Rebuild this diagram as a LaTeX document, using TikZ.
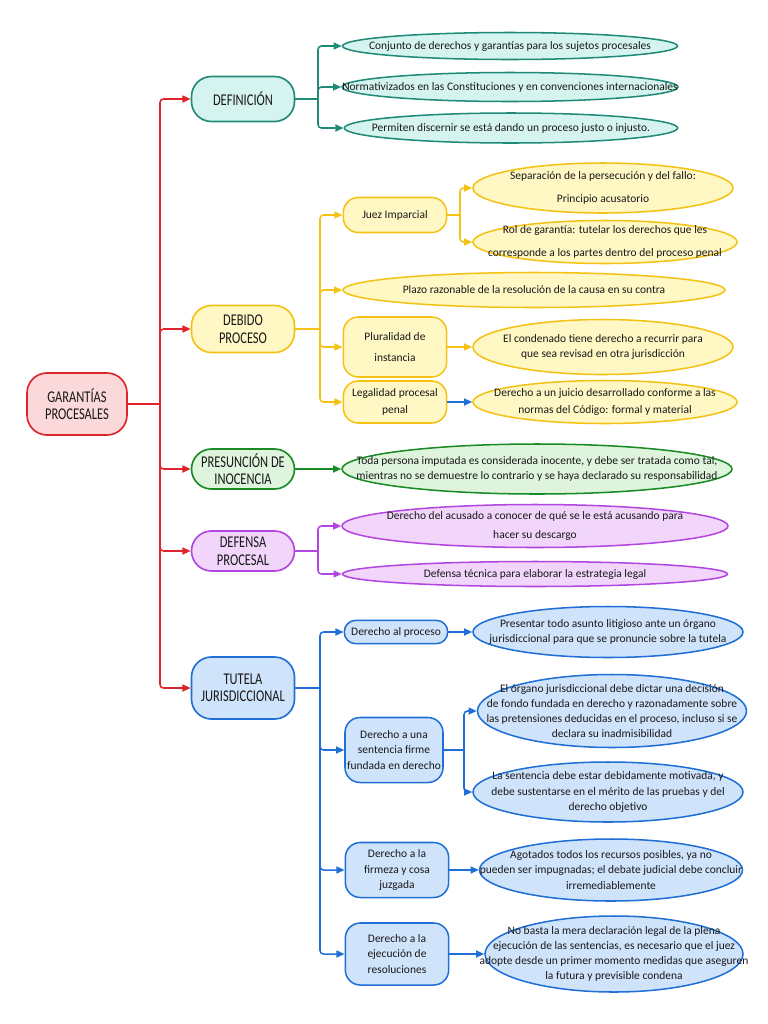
\documentclass[tikz,border=0pt]{standalone}
\usepackage{fontspec}
\setmainfont{Carlito}
\newfontfamily\mayus[FakeStretch=0.76]{Carlito}
\usetikzlibrary{shapes.geometric,arrows.meta}

\definecolor{rojoB}{HTML}{E0242B}
\definecolor{rojoF}{HTML}{FBD9DA}
\definecolor{defB}{HTML}{1F8A76}
\definecolor{defF}{HTML}{D6F4EF}
\definecolor{debB}{HTML}{F3C214}
\definecolor{debF}{HTML}{FFF7C4}
\definecolor{preB}{HTML}{1A8A24}
\definecolor{preF}{HTML}{DEF4DD}
\definecolor{fenB}{HTML}{B246E0}
\definecolor{fenF}{HTML}{F1D5FA}
\definecolor{tutB}{HTML}{1F6FD6}
\definecolor{tutF}{HTML}{CFE3FB}

\begin{document}
\begin{tikzpicture}[x=0.03cm, y=-0.03cm,
    every node/.style={text=black!90, font=\fontsize{9.8}{13}\selectfont},
    tema/.style={draw, line width=1.4pt, rounded corners=0.6cm, minimum width=3.09cm,
      minimum height=1.35cm, align=center, inner sep=1pt,
      font=\mayus\fontsize{14}{15}\selectfont},
    sub/.style={draw, line width=1.3pt, rounded corners=0.45cm, minimum width=3.1cm,
      align=center, inner sep=1pt},
    idea/.style={ellipse, draw, line width=1.3pt, inner xsep=-3cm, inner ysep=-1cm,
      align=center},
    lin/.style={line width=1.3pt, rounded corners=3pt},
    arr/.style={lin, -{Triangle[length=7pt, width=6pt]}},
    raiz/.style={draw=rojoB, fill=rojoF},
    defi/.style={draw=defB, fill=defF},
    debi/.style={draw=debB, fill=debF},
    pres/.style={draw=preB, fill=preF},
    defe/.style={draw=fenB, fill=fenF},
    tute/.style={draw=tutB, fill=tutF}]
  \useasboundingbox (0,0) rectangle (768,1024);

  % raiz y temas
  \node[tema, raiz, minimum width=3cm, minimum height=1.86cm] (root) at (77,404) {GARANTÍAS\\PROCESALES};
  \node[tema, defi] (def) at (243,99) {DEFINICIÓN};
  \node[tema, debi, minimum height=1.41cm] (deb) at (243,329) {DEBIDO\\PROCESO};
  \node[tema, pres, minimum height=1.2cm] (pre) at (243,469) {PRESUNCIÓN DE\\INOCENCIA};
  \node[tema, defe, minimum height=1.2cm] (fen) at (243,551) {DEFENSA\\PROCESAL};
  \node[tema, tute, minimum height=1.86cm] (tut) at (243,688) {TUTELA\\JURISDICCIONAL};

  % definicion
  \node[idea, defi, minimum width=10.05cm, minimum height=0.81cm] (d1) at (510,46)
    {Conjunto de derechos y garantías para los sujetos procesales};
  \node[idea, defi, minimum width=10.08cm, minimum height=0.87cm] (d2) at (510,87)
    {Normativizados en las Constituciones y en convenciones internacionales};
  \node[idea, defi, minimum width=10cm, minimum height=0.9cm] (d3) at (511,128)
    {Permiten discernir se está dando un proceso justo o injusto.};

  % debido proceso
  \node[sub, debi, minimum height=1.05cm] (juez) at (395,215) {Juez Imparcial};
  \node[sub, debi, minimum height=1.8cm] (plur) at (395,347) {Pluralidad de\\[5pt]instancia};
  \node[sub, debi, minimum height=1.26cm] (legal) at (395,402) {Legalidad procesal\\[2pt]penal};
  \node[idea, debi, minimum width=7.8cm, minimum height=1.5cm] (sep) at (603,188)
    {Separación de la persecución y del fallo:\\[6pt]Principio acusatorio};
  \node[idea, debi, minimum width=7.92cm, minimum height=1.29cm] (rol) at (605,242)
    {Rol de garantía: tutelar los derechos que les\\[6pt]corresponde a los  partes dentro del proceso penal};
  \node[idea, debi, minimum width=11.46cm, minimum height=1.05cm] (plazo) at (534,290)
    {Plazo razonable de la resolución de la causa en su contra};
  \node[idea, debi, minimum width=7.8cm, minimum height=1.65cm] (cond) at (603,347)
    {El condenado tiene derecho a recurrir para\\que sea revisad en otra jurisdicción};
  \node[idea, debi, minimum width=7.92cm, minimum height=1.29cm] (juicio) at (605,402)
    {Derecho a un juicio desarrollado conforme a las\\[2pt]normas del Código: formal y material};

  % presuncion
  \node[idea, pres, minimum width=11.7cm, minimum height=1.5cm] (toda) at (537,469)
    {Toda persona imputada  es considerada inocente, y debe ser tratada como tal,\\mientras no se demuestre lo contrario y se haya declarado su responsabilidad};

  % defensa
  \node[idea, defe, minimum width=11.58cm, minimum height=1.29cm] (acus) at (535,526)
    {Derecho del acusado a conocer de qué se le está acusando para\\[4pt]hacer su descargo};
  \node[idea, defe, minimum width=11.55cm, minimum height=0.75cm] (tecn) at (535,574)
    {Defensa técnica para elaborar la estrategia legal};

  % tutela
  \node[sub, tute, minimum height=0.7cm, rounded corners=0.34cm] (al) at (396,632) {Derecho al proceso};
  \node[sub, tute, minimum width=2.94cm, minimum height=1.95cm] (sen) at (394,750)
    {Derecho a una\\sentencia firme\\fundada en derecho};
  \node[sub, tute, minimum height=1.65cm] (fir) at (397,870) {Derecho a la\\firmeza  y cosa\\juzgada};
  \node[sub, tute, minimum height=1.86cm] (eje) at (397,954) {Derecho a la\\ejecución de\\resoluciones};
  \node[idea, tute, minimum width=8.1cm, minimum height=1.53cm] (pres) at (608,632)
    {Presentar todo asunto litigioso ante un órgano\\jurisdiccional para que se pronuncie sobre la tutela};
  \node[idea, tute, minimum width=8.07cm, minimum height=2.19cm] (org) at (612,711)
    {El órgano  jurisdiccional debe dictar una decisión\\de fondo fundada en derecho y razonadamente sobre\\las pretensiones deducidas en el proceso, incluso si se\\declara su inadmisibilidad};
  \node[idea, tute, minimum width=8.1cm, minimum height=1.8cm] (sent) at (608,792)
    {La sentencia debe estar debidamente motivada, y\\debe  sustentarse en el mérito de las pruebas y del\\derecho objetivo};
  \node[idea, tute, minimum width=7.89cm, minimum height=1.86cm] (agot) at (611,870)
    {Agotados todos los recursos posibles, ya no\\pueden ser impugnadas; el debate judicial debe concluir\\irremediablemente};
  \node[idea, tute, minimum width=7.74cm, minimum height=2.28cm] (nobas) at (614,954)
    {No basta la mera declaración legal de la plena\\ejecución de las sentencias, es necesario que el juez\\adopte desde un primer momento medidas que aseguren\\la futura y previsible condena};

  % conectores
  \coordinate (rk) at (160,404);
  \draw[lin, rojoB] (root) -- (rk);
  \foreach \n in {def,deb,pre,fen,tut}
    \draw[arr, rojoB] (rk) |- (\n);

  \coordinate (dk) at (318,99);
  \draw[lin, defB] (def) -- (dk);
  \foreach \n in {d1,d2,d3}
    \draw[arr, defB] (dk) |- (\n);

  \coordinate (bk) at (320,329);
  \draw[lin, debB] (deb) -- (bk);
  \foreach \n in {juez,plazo,plur,legal}
    \draw[arr, debB] (bk) |- (\n);
  \coordinate (jk) at (460,215);
  \draw[lin, debB] (juez) -- (jk);
  \foreach \n in {sep,rol}
    \draw[arr, debB] (jk) |- (\n);
  \draw[arr, debB] (plur) -- (cond);
  \draw[arr, tutB] (legal) -- (juicio);

  \draw[arr, preB] (pre) -- (toda);

  \coordinate (fk) at (318,551);
  \draw[lin, fenB] (fen) -- (fk);
  \foreach \n in {acus,tecn}
    \draw[arr, fenB] (fk) |- (\n);

  \coordinate (tk) at (320,688);
  \draw[lin, tutB] (tut) -- (tk);
  \foreach \n in {al,sen,fir,eje}
    \draw[arr, tutB] (tk) |- (\n);
  \draw[arr, tutB] (al) -- (pres);
  \coordinate (sk) at (464,750);
  \draw[lin, tutB] (sen) -- (sk);
  \foreach \n in {org,sent}
    \draw[arr, tutB] (sk) |- (\n);
  \draw[arr, tutB] (fir) -- (agot);
  \draw[arr, tutB] (eje) -- (nobas);
\end{tikzpicture}
\end{document}
